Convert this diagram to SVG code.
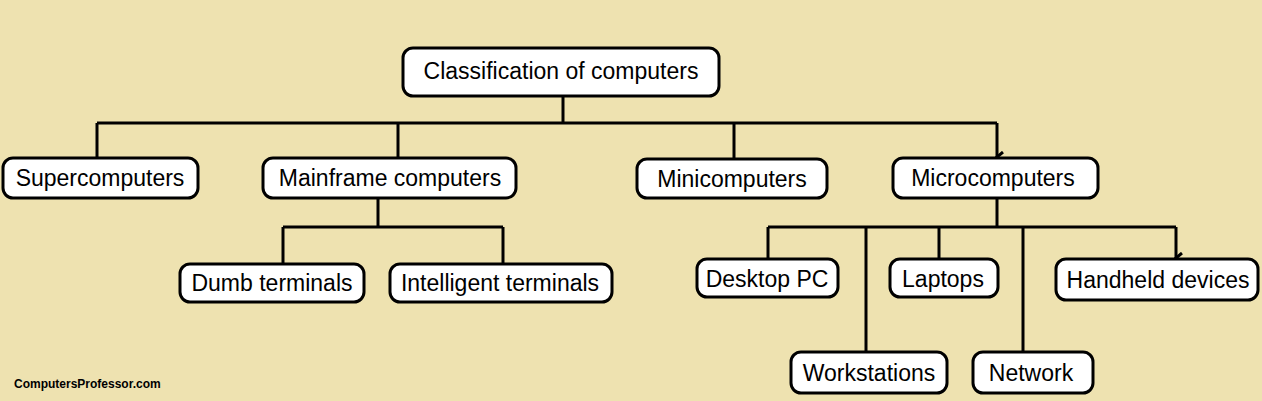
<svg xmlns="http://www.w3.org/2000/svg" width="1262" height="401" viewBox="0 0 1262 401">
<style>
.n rect{fill:#fff;stroke:#000;stroke-width:3}
.n text{font-family:"Liberation Sans",Arial,sans-serif;font-size:23px;text-anchor:middle;fill:#000}
#c path{fill:none;stroke:#000;stroke-width:3}
</style>
<defs><marker id="a" markerWidth="12" markerHeight="12" refX="6" refY="10" orient="auto" markerUnits="userSpaceOnUse" viewBox="0 0 12 12"><path d="M1,4 L6,10 L11,4" fill="none" stroke="#000" stroke-width="3"/></marker></defs>
<rect width="1262" height="401" fill="#EEE2B0"/>
<g id="c">
<path d="M563,96V123M97,123H997"/>
<path d="M97,123V157M398,123V157M734,123V158M997,123V157" marker-end="url(#a)"/>
<path d="M378,198V227M283,227H503M997,198V227M768,227H1176"/>
<path d="M283,227V263M503,227V263M768,227V258M866,227V351M939,227V258M1023,227V351M1176,227V258" marker-end="url(#a)"/>
</g>
<g id="root" class="n"><rect x="403" y="48" width="316" height="48" rx="10"/><text x="561" y="79">Classification of computers</text></g>
<g id="super" class="n"><rect x="3" y="158" width="195" height="40" rx="10"/><text x="100" y="186">Supercomputers</text></g>
<g id="main" class="n"><rect x="263" y="158" width="253" height="40" rx="10"/><text x="390" y="186">Mainframe computers</text></g>
<g id="mini" class="n"><rect x="637" y="159" width="190" height="39" rx="10"/><text x="732" y="187">Minicomputers</text></g>
<g id="micro" class="n"><rect x="893" y="158" width="205" height="40" rx="10"/><text x="993" y="186">Microcomputers</text></g>
<g id="dumb" class="n"><rect x="180" y="264" width="184" height="38" rx="10"/><text x="272" y="291">Dumb terminals</text></g>
<g id="intel" class="n"><rect x="390" y="264" width="222" height="38" rx="10"/><text x="500" y="291">Intelligent terminals</text></g>
<g id="desk" class="n"><rect x="697" y="259" width="141" height="38" rx="10"/><text x="767" y="287">Desktop PC</text></g>
<g id="lap" class="n"><rect x="890" y="259" width="108" height="38" rx="10"/><text x="943" y="287">Laptops</text></g>
<g id="hand" class="n"><rect x="1056" y="259" width="202" height="41" rx="10"/><text x="1158" y="288">Handheld devices</text></g>
<g id="work" class="n"><rect x="791" y="352" width="156" height="41" rx="10"/><text x="869" y="381">Workstations</text></g>
<g id="net" class="n"><rect x="973" y="352" width="120" height="41" rx="10"/><text x="1031" y="381">Network</text></g>
<text x="14" y="388" font-family="'Liberation Sans',Arial,sans-serif" font-size="12" font-weight="bold">ComputersProfessor.com</text>
</svg>
